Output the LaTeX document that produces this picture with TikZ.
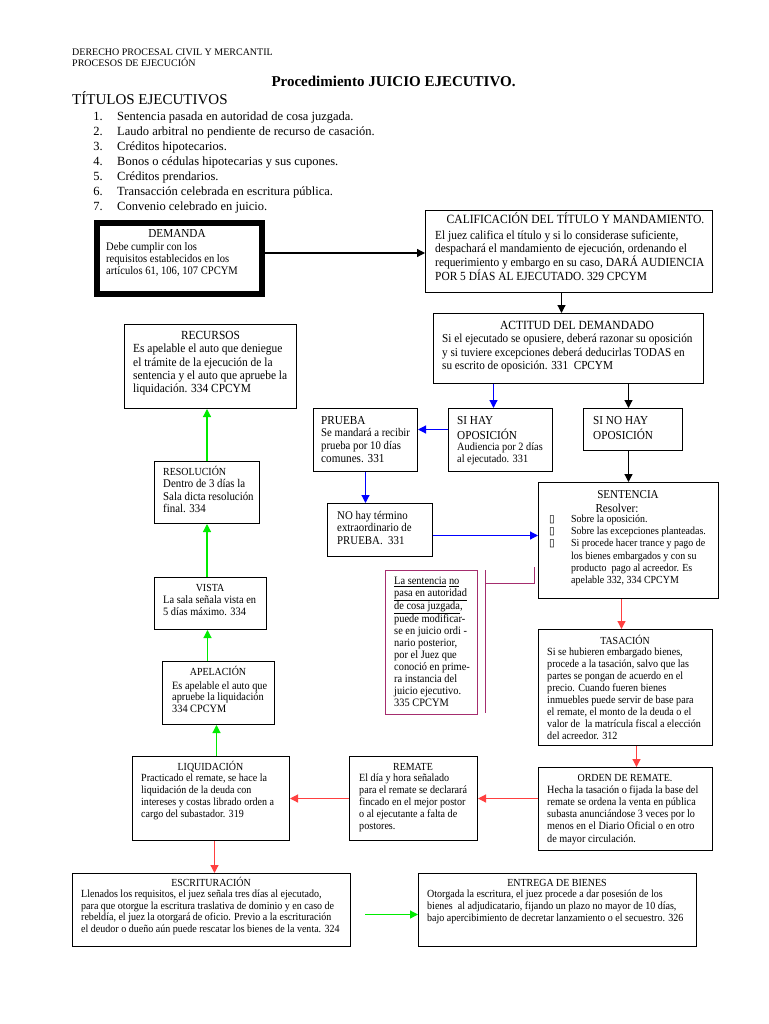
\documentclass[tikz,border=0pt]{standalone}
\usepackage{fontspec}
\setmainfont{Liberation Serif}
\newfontfamily\bx{Liberation Serif}[FakeStretch=0.92]
\newfontfamily\dv{DejaVu Sans}
\usetikzlibrary{arrows.meta}
\definecolor{myred}{RGB}{255,64,64}
\definecolor{mygreen}{RGB}{0,235,0}
\definecolor{myblue}{RGB}{0,0,255}
\definecolor{plum}{RGB}{165,45,110}
\newcommand\fz[2]{\fontsize{#1}{#2}\selectfont}
\begin{document}
\begin{tikzpicture}[x=1pt,y=-1pt,
  box/.style={draw, line width=1pt, anchor=north west, inner sep=0pt},
  tx/.style={anchor=north west, inner sep=0pt, align=left},
  ti/.style={anchor=base, inner sep=0pt},
  tl/.style={anchor=base west, inner sep=0pt},
  arr/.style={line width=1.2pt, -{Triangle[length=8pt,width=8pt]}}]
\fill[white] (0,0) rectangle (768,1024);
\useasboundingbox (0,0) rectangle (768,1024);

% header
\node[tl, font=\fz{10}{11}] (h1) at (72,56) {DERECHO PROCESAL CIVIL Y MERCANTIL};
\node[tl, font=\fz{10}{11}] (h2) at (72,67) {PROCESOS DE EJECUCIÓN};
\node[ti, font=\bfseries\fz{15}{17}] (tit) at (393.5,86.7) {Procedimiento JUICIO EJECUTIVO.};
\node[tl, font=\fz{15}{17}] (te) at (72,105) {TÍTULOS EJECUTIVOS};
\foreach \i/\t in {1/{Sentencia pasada en autoridad de cosa juzgada.},
  2/{Laudo arbitral no pendiente de recurso de casación.},
  3/{Créditos hipotecarios.},
  4/{Bonos o cédulas hipotecarias y sus cupones.},
  5/{Créditos prendarios.},
  6/{Transacción celebrada en escritura pública.},
  7/{Convenio celebrado en juicio.}}{
  \node[anchor=base east, inner sep=0pt, font=\fz{12.5}{15}] (n\i) at (103,{121+15*(\i-1)}) {\i.};
  \node[tl, font=\fz{12.5}{15}] (l\i) at (117,{121+15*(\i-1)}) {\t};
}

% DEMANDA
\node[box, line width=6pt, minimum width=165pt, minimum height=71pt] (dem) at (94,220) {};
\node[ti, font=\bx\fz{12.2}{13}] (demt) at (177,237) {DEMANDA};
\node[tx, font=\bx\fz{11.5}{12.2}] (demb) at (106,241.4) {\strut Debe cumplir con los\\requisitos establecidos en los\\artículos 61, 106, 107 CPCYM};

% CALIFICACION
\node[box, minimum width=287pt, minimum height=82pt] (cal) at (425,210) {};
\node[ti, font=\bx\fz{12.6}{13.2}] (calt) at (575.5,223.2) {CALIFICACIÓN DEL TÍTULO Y MANDAMIENTO.};
\node[tx, font=\bx\fz{12.4}{13.2}] (calb) at (435,229.6) {\strut El juez califica el título y si lo considerase suficiente,\\despachará el mandamiento de ejecución, ordenando el\\requerimiento y embargo en su caso, DARÁ AUDIENCIA\\POR 5 DÍAS AL EJECUTADO. 329 CPCYM};

% ACTITUD
\node[box, minimum width=270pt, minimum height=70pt] (act) at (433,313) {};
\node[ti, font=\bx\fz{12.5}{13.5}] (actt) at (577,329) {ACTITUD DEL DEMANDADO};
\node[tx, font=\bx\fz{12.2}{13.5}] (actb) at (442,333) {\strut Si el ejecutado se opusiere, deberá razonar su oposición\\y si tuviere excepciones deberá deducirlas TODAS en\\su escrito de oposición. 331\ \ CPCYM};

% RECURSOS
\node[box, minimum width=172pt, minimum height=84pt] (rec) at (124,324) {};
\node[ti, font=\bx\fz{12.4}{13.5}] (rect) at (210.5,339) {RECURSOS};
\node[tx, font=\bx\fz{12.4}{13.4}] (recb) at (133,343.2) {\strut Es apelable el auto que deniegue\\el trámite de la ejecución de la\\sentencia y el auto que apruebe la\\liquidación. 334 CPCYM};

% PRUEBA
\node[box, minimum width=104pt, minimum height=63pt] (pru) at (313,408) {};
\node[tl, font=\bx\fz{12.2}{13}] (prut) at (321,424) {PRUEBA};
\node[tx, font=\bx\fz{11.7}{12.7}] (prub) at (321,427.7) {\strut Se mandará a recibir\\prueba por 10 días\\{\fz{12.2}{12.7}comunes. 331}};

% SI HAY OPOSICION
\node[box, minimum width=104pt, minimum height=63pt] (shay) at (448,408) {};
\node[tx, font=\bx\fz{12.2}{13.3}] (shayt) at (457,414.7) {\strut SI HAY\\OPOSICIÓN};
\node[tx, font=\bx\fz{11.2}{11.8}] (shayb) at (457,441.8) {\strut Audiencia por 2 días\\al ejecutado. 331};

% SI NO HAY OPOSICION
\node[box, minimum width=99pt, minimum height=42pt] (snhay) at (583,408) {};
\node[tx, font=\bx\fz{12.2}{13.3}] (snhayt) at (593,414.7) {\strut SI NO HAY\\OPOSICIÓN};

% NO hay termino
\node[box, minimum width=105pt, minimum height=53pt] (nohay) at (327,503) {};
\node[tx, font=\bx\fz{11.8}{12.4}] (nohayb) at (337,510.6) {\strut NO hay término\\extraordinario de\\PRUEBA.\ \ 331};

% SENTENCIA
\node[box, minimum width=180pt, minimum height=116pt] (sent) at (538,482) {};
\node[ti, font=\bx\fz{12}{13}] (sentt) at (628,498) {SENTENCIA};
\node[ti, font=\bx\fz{12.2}{13}] (sentr) at (617,512) {Resolver:};
\node[anchor=north, inner sep=0pt, align=center, font=\dv\fz{10.5}{12.3}] (sentk) at (552,513.4) {\strut ▯\\▯\\▯};
\node[tx, font=\bx\fz{10.8}{12.3}] (sentb) at (571,513.4) {\strut Sobre la oposición.\\Sobre las excepciones planteadas.\\Si procede hacer trance y pago de\\los bienes embargados y con su\\producto\ \ pago al acreedor. Es\\apelable 332, 334 CPCYM};

% La sentencia no pasa...
\node[box, draw=plum, minimum width=92pt, minimum height=144pt] (nota) at (385,570) {};
\node[tx, font=\bx\fz{11.3}{11.9}] (notab) at (394,575.8) {\strut \underline{La sentencia} \underline{no}\\\underline{pasa en autoridad}\\\underline{de cosa juzgada},\\puede modificar-\\se en juicio ordi -\\nario posterior,\\por el Juez que\\conoció en prime-\\ra instancia del\\juicio ejecutivo.\\335 CPCYM};
\coordinate (b1) at (485.5,570);
\coordinate (b2) at (485.5,713);
\coordinate (b3) at (485.5,583);
\coordinate (b4) at (534,583);
\coordinate (b5) at (534,567);
\draw[plum, line width=1pt] (b1) -- (b2);
\draw[plum, line width=1pt] (b3) -- (b4) -- (b5);

% TASACION
\node[box, minimum width=174pt, minimum height=116pt] (tas) at (538,629) {};
\node[ti, font=\bx\fz{10.8}{12}] (tast) at (625,644.6) {TASACIÓN};
\node[tx, font=\bx\fz{11}{12.1}] (tasb) at (547,646.6) {\strut Si se hubieren embargado bienes,\\procede a la tasación, salvo que las\\partes se pongan de acuerdo en el\\precio. Cuando fueren bienes\\inmuebles puede servir de base para\\el remate, el monto de la deuda o el\\valor de\ \ la matrícula fiscal a elección\\del acreedor. 312};

% ORDEN DE REMATE
\node[box, minimum width=174pt, minimum height=83pt] (orden) at (538,767) {};
\node[ti, font=\bx\fz{10.8}{12}] (ordent) at (625,781.6) {ORDEN DE REMATE.};
\node[tx, font=\bx\fz{11.1}{12.2}] (ordenb) at (547,784.6) {\strut Hecha la tasación o fijada la base del\\remate se ordena la venta en pública\\subasta anunciándose 3 veces por lo\\menos en el Diario Oficial o en otro\\de mayor circulación.};

% REMATE
\node[box, minimum width=128pt, minimum height=84pt] (rem) at (349,756) {};
\node[ti, font=\bx\fz{10.8}{12}] (remt) at (413,770.6) {REMATE};
\node[tx, font=\bx\fz{11}{12.1}] (remb) at (359,772.9) {\strut El día y hora señalado\\para el remate se declarará\\fincado en el mejor postor\\o al ejecutante a falta de\\postores.};

% LIQUIDACION
\node[box, minimum width=157pt, minimum height=84pt] (liq) at (132,756) {};
\node[ti, font=\bx\fz{10.8}{12}] (liqt) at (210.5,770.6) {LIQUIDACIÓN};
\node[tx, font=\bx\fz{10.9}{12.1}] (liqb) at (141,772.9) {\strut Practicado el remate, se hace la\\liquidación de la deuda con\\intereses y costas librado orden a\\cargo del subastador. 319};

% APELACION
\node[box, minimum width=112pt, minimum height=63pt] (apel) at (162,661) {};
\node[ti, font=\bx\fz{10.8}{12}] (apelt) at (218,675.3) {APELACIÓN};
\node[tx, font=\bx\fz{11.2}{11.6}] (apelb) at (172,681) {\strut Es apelable el auto que\\apruebe la liquidación\\334 CPCYM};

% VISTA
\node[box, minimum width=112pt, minimum height=52pt] (vista) at (154,577) {};
\node[ti, font=\bx\fz{10.8}{12}] (vistat) at (210,591.6) {VISTA};
\node[tx, font=\bx\fz{11.3}{12}] (vistab) at (163,594.8) {\strut La sala señala vista en\\5 días máximo. 334};

% RESOLUCION
\node[box, minimum width=105pt, minimum height=62pt] (resol) at (154,461) {};
\node[tl, font=\bx\fz{10.8}{12}] (resolt) at (163,475.3) {RESOLUCIÓN};
\node[tx, font=\bx\fz{11.8}{12.3}] (resolb) at (163,479) {\strut Dentro de 3 días la\\Sala dicta resolución\\final. 334};

% ESCRITURACION
\node[box, minimum width=278pt, minimum height=73pt] (escr) at (72,873) {};
\node[ti, font=\bx\fz{10.8}{12}] (escrt) at (211,886.6) {ESCRITURACIÓN};
\node[tx, font=\bx\fz{10.9}{11.7}] (escrb) at (81,889.1) {\strut Llenados los requisitos, el juez señala tres días al ejecutado,\\para que otorgue la escritura traslativa de dominio y en caso de\\rebeldía, el juez la otorgará de oficio. Previo a la escrituración\\el deudor o dueño aún puede rescatar los bienes de la venta. 324};

% ENTREGA DE BIENES
\node[box, minimum width=278pt, minimum height=73pt] (ent) at (418,873) {};
\node[ti, font=\bx\fz{10.8}{12}] (entt) at (557,886.6) {ENTREGA DE BIENES};
\node[tx, font=\bx\fz{10.9}{12}] (entb) at (427,888.9) {\strut Otorgada la escritura, el juez procede a dar posesión de los\\bienes\ \ al adjudicatario, fijando un plazo no mayor de 10 días,\\bajo apercibimiento de decretar lanzamiento o el secuestro. 326};

% connectors
\draw[arr] ([yshift=5.5pt]dem.east) -- ([yshift=5.5pt]dem.east -| cal.west);
\draw[arr] ([xshift=-7.5pt]cal.south) -- ([xshift=-7.5pt]cal.south |- act.north);
\draw[arr, myblue] ([xshift=-7pt]shay.north |- act.south) -- ([xshift=-7pt]shay.north);
\draw[arr] ([xshift=-4.5pt]snhay.north |- act.south) -- ([xshift=-4.5pt]snhay.north);
\draw[arr] ([xshift=-4.5pt]snhay.south) -- ([xshift=-4.5pt]snhay.south |- sent.north);
\draw[arr, myblue] ([yshift=10.5pt]shay.west) -- ([yshift=10.5pt]shay.west -| pru.east);
\draw[arr, myblue] (pru.south) -- (pru.south |- nohay.north);
\draw[arr, myblue] ([yshift=-5.5pt]nohay.east) -- ([yshift=-5.5pt]nohay.east -| sent.west);
\draw[arr, myred] ([xshift=-7pt]sent.south) -- ([xshift=-7pt]sent.south |- tas.north);
\draw[arr, myred] ([xshift=11pt]tas.south) -- ([xshift=11pt]tas.south |- orden.north);
\draw[arr, myred] (rem.east -| orden.west) -- (rem.east);
\draw[arr, myred] (rem.west) -- (liq.east);
\draw[arr, mygreen] ([xshift=5.5pt]liq.north) -- ([xshift=5.5pt]liq.north |- apel.south);
\draw[arr, mygreen] ([xshift=-3pt]vista.south |- apel.north) -- ([xshift=-3pt]vista.south);
\draw[arr, mygreen] (resol.south |- vista.north) -- (resol.south);
\draw[arr, mygreen] (resol.north) -- (resol.north |- rec.south);
\draw[arr, myred] ([xshift=3pt]escr.north |- liq.south) -- ([xshift=3pt]escr.north);
\draw[arr, mygreen] ([xshift=14pt,yshift=-4.5pt]escr.east) -- ([yshift=-4.5pt]escr.east -| ent.west);
\end{tikzpicture}
\end{document}
